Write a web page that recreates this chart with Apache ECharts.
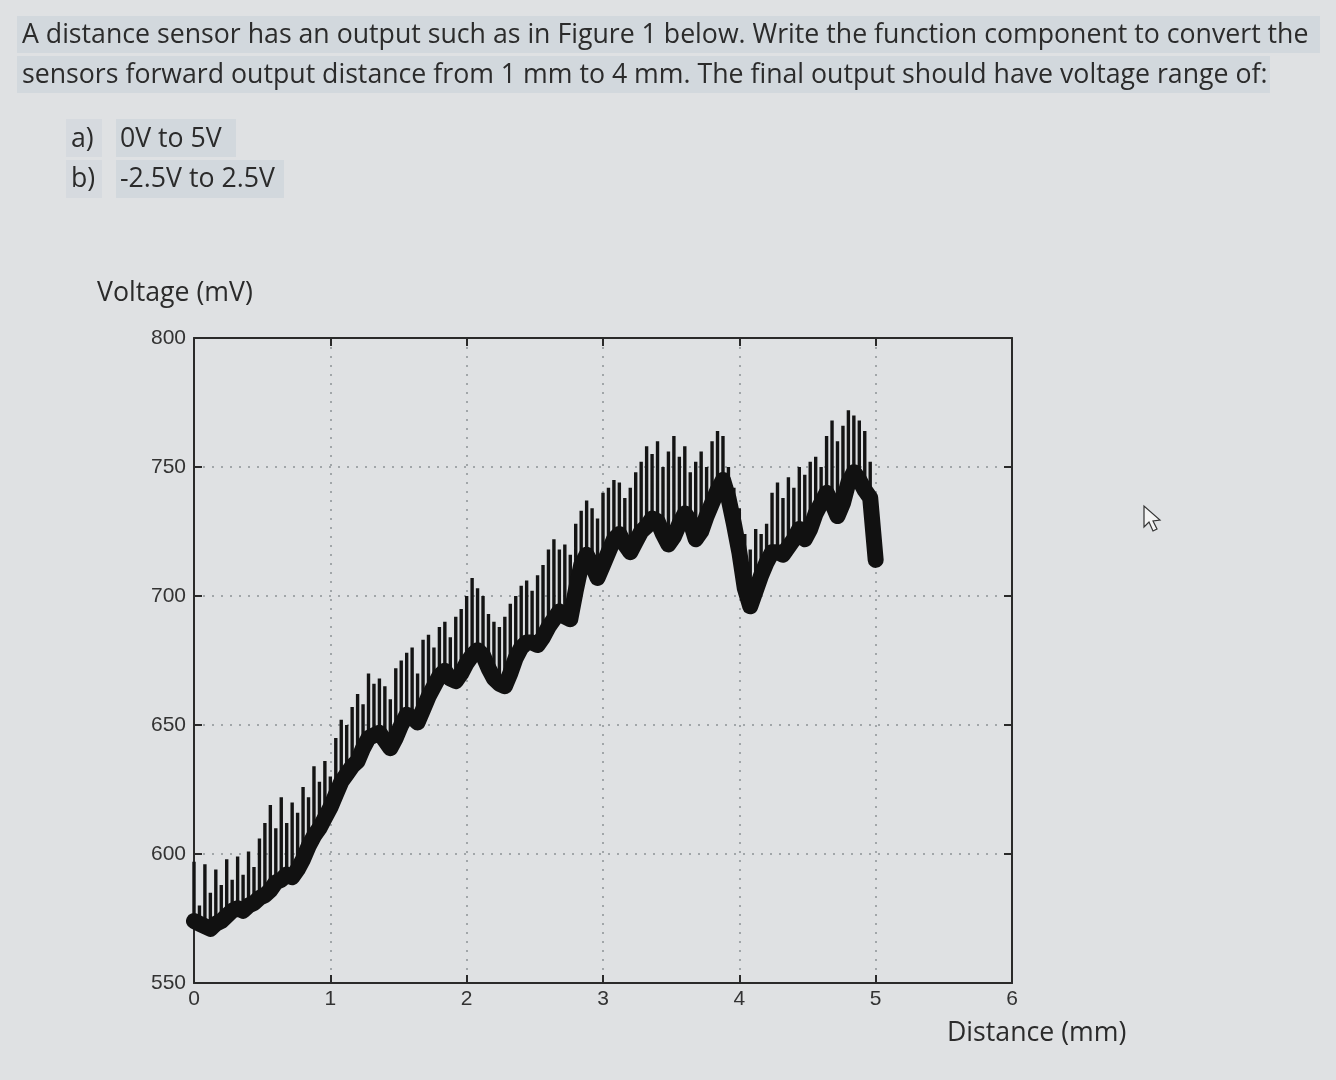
<!DOCTYPE html>
<html>
<head>
<meta charset="utf-8">
<script src="https://cdn.jsdelivr.net/npm/echarts@6/dist/echarts.min.js"></script>
<style>
  html, body { margin: 0; padding: 0; background: #dfe1e3; }
  #chart { width: 1336px; height: 1080px; }
</style>
</head>
<body>
<div id="chart"></div>
<script>
// ---- data ----
const questionLines = [
  'A distance sensor has an output such as in Figure 1 below. Write the function component to convert the',
  'sensors forward output distance from 1 mm to 4 mm. The final output should have voltage range of:'
];
const optionLabels = ['a)', 'b)'];
const optionTexts = ['0V to 5V', '-2.5V to 2.5V'];

const xTickLabels = ['0', '1', '2', '3', '4', '5', '6'];
const yTickLabels = ['550', '600', '650', '700', '750', '800'];
const xAxisName = 'Distance (mm)';
const yAxisName = 'Voltage (mV)';

const STEP_MM = 0.04; // sample spacing of the trace, 0 .. 5 mm
// centre of the dense dark band of the trace (mV)
const bandMv = [
  574, 573, 572, 571, 573, 574, 576, 578, 579, 578,
  580, 581, 583, 584, 586, 589, 590, 592, 591, 594,
  598, 603, 607, 610, 614, 618, 623, 628, 631, 634,
  636, 641, 645, 646, 647, 644, 641, 645, 650, 654,
  653, 651, 656, 661, 665, 669, 671, 668, 667, 670,
  674, 677, 679, 677, 672, 668, 666, 665, 670, 676,
  680, 682, 682, 681, 684, 688, 691, 694, 692, 691,
  702, 712, 716, 712, 707, 712, 717, 722, 724, 720,
  717, 721, 725, 727, 730, 729, 724, 720, 723, 728,
  732, 729, 722, 725, 731, 736, 741, 745, 738, 728,
  717, 703, 696, 702, 708, 713, 717, 717, 716, 719,
  722, 726, 722, 726, 732, 736, 740, 736, 731, 736,
  744, 748, 745, 741, 738, 714
];
// tops of the noise spikes (mV)
const peakMv = [
  597, 580, 596, 585, 594, 588, 598, 590, 599, 592,
  601, 595, 606, 612, 619, 610, 622, 612, 620, 616,
  626, 622, 634, 628, 636, 630, 645, 652, 650, 657,
  662, 658, 670, 666, 668, 665, 660, 672, 675, 678,
  680, 670, 683, 685, 680, 688, 690, 684, 692, 695,
  700, 707, 703, 700, 693, 690, 688, 692, 697, 700,
  704, 706, 702, 708, 712, 718, 722, 718, 720, 716,
  728, 733, 737, 734, 730, 740, 742, 745, 744, 738,
  742, 748, 752, 758, 755, 760, 750, 756, 762, 754,
  758, 748, 752, 756, 750, 760, 764, 762, 750, 742,
  734, 724, 718, 726, 724, 728, 740, 744, 738, 746,
  742, 750, 747, 752, 754, 750, 762, 768, 760, 766,
  772, 770, 768, 764, 752, 735
];

// ---- build series data ----
const bandData = bandMv.map((v, i) => [i * STEP_MM, v]);
const spikeData = [];
bandMv.forEach((v, i) => {
  const x = i * STEP_MM;
  spikeData.push([x, v], [x, peakMv[i]], [x, v]);
});

const chart = echarts.init(document.getElementById('chart'), null, { renderer: 'canvas' });

const textFont = '"Open Sans", "Noto Sans", sans-serif';
const tickFont = '"Liberation Sans", Arial, sans-serif';
const axisColor = '#2a2a2a';
const gridLine = { show: true, lineStyle: { type: [2, 7], color: '#8d9297', width: 1.5 } };
const qFont = '26.7px ' + textFont;

const option = {
  backgroundColor: '#dfe1e3',
  animation: false,
  grid: { left: 194, right: 324, top: 338, bottom: 97 },
  xAxis: [
    {
      type: 'value', min: 0, max: 6, interval: 1, position: 'bottom',
      axisLine: { show: true, onZero: false, lineStyle: { color: axisColor, width: 2 } },
      axisTick: { show: true, inside: true, length: 8, lineStyle: { color: axisColor, width: 2 } },
      axisLabel: { show: true, fontSize: 21, color: '#333', fontFamily: tickFont, margin: 6,
        formatter: (v) => xTickLabels[Math.round(v)] },
      splitLine: gridLine
    },
    {
      type: 'value', min: 0, max: 6, interval: 1, position: 'top',
      axisLine: { show: true, onZero: false, lineStyle: { color: axisColor, width: 2 } },
      axisTick: { show: true, inside: true, length: 8, lineStyle: { color: axisColor, width: 2 } },
      axisLabel: { show: false }, splitLine: { show: false }
    }
  ],
  yAxis: [
    {
      type: 'value', min: 550, max: 800, interval: 50, position: 'left',
      axisLine: { show: true, onZero: false, lineStyle: { color: axisColor, width: 2 } },
      axisTick: { show: true, inside: true, length: 8, lineStyle: { color: axisColor, width: 2 } },
      axisLabel: { show: true, fontSize: 21, color: '#333', fontFamily: tickFont, margin: 8,
        formatter: (v) => yTickLabels[Math.round((v - 550) / 50)] },
      splitLine: gridLine
    },
    {
      type: 'value', min: 550, max: 800, interval: 50, position: 'right',
      axisLine: { show: true, onZero: false, lineStyle: { color: axisColor, width: 2 } },
      axisTick: { show: true, inside: true, length: 8, lineStyle: { color: axisColor, width: 2 } },
      axisLabel: { show: false }, splitLine: { show: false }
    }
  ],
  series: [
    {
      type: 'line', data: spikeData, xAxisIndex: 0, yAxisIndex: 0,
      showSymbol: false, symbol: 'none', z: 3,
      lineStyle: { color: '#141414', width: 3.4 }
    },
    {
      type: 'line', data: bandData, xAxisIndex: 0, yAxisIndex: 0,
      showSymbol: false, symbol: 'none', z: 4,
      lineStyle: { color: '#111', width: 16, join: 'round', cap: 'round' }
    }
  ],
  graphic: [
    // highlight bars behind question text
    { type: 'rect', left: 17, top: 16, shape: { width: 1303, height: 37 }, style: { fill: '#d2d8dd' }, z: 1 },
    { type: 'rect', left: 17, top: 56, shape: { width: 1253, height: 37 }, style: { fill: '#d2d8dd' }, z: 1 },
    { type: 'rect', left: 66, top: 119, shape: { width: 36, height: 38 }, style: { fill: '#d6dadf' }, z: 1 },
    { type: 'rect', left: 116, top: 119, shape: { width: 120, height: 38 }, style: { fill: '#d2d8dd' }, z: 1 },
    { type: 'rect', left: 66, top: 160, shape: { width: 36, height: 38 }, style: { fill: '#d6dadf' }, z: 1 },
    { type: 'rect', left: 116, top: 160, shape: { width: 168, height: 38 }, style: { fill: '#d2d8dd' }, z: 1 },
    { type: 'text', left: 22, top: 22, z: 2,
      style: { text: questionLines[0], font: qFont, fill: '#2b2b2b' } },
    { type: 'text', left: 22, top: 62, z: 2,
      style: { text: questionLines[1], font: qFont, fill: '#2b2b2b' } },
    { type: 'text', left: 71, top: 126, z: 2,
      style: { text: optionLabels[0], font: qFont, fill: '#2b2b2b' } },
    { type: 'text', left: 120, top: 126, z: 2,
      style: { text: optionTexts[0], font: qFont, fill: '#2b2b2b' } },
    { type: 'text', left: 71, top: 166, z: 2,
      style: { text: optionLabels[1], font: qFont, fill: '#2b2b2b' } },
    { type: 'text', left: 120, top: 166, z: 2,
      style: { text: optionTexts[1], font: qFont, fill: '#2b2b2b' } },
    // axis names
    { type: 'text', left: 97, top: 280, z: 2,
      style: { text: yAxisName, font: qFont, fill: '#2b2b2b' } },
    { type: 'text', left: 947, top: 1020, z: 2,
      style: { text: xAxisName, font: qFont, fill: '#2b2b2b' } },
    // mouse cursor on screen
    { type: 'polygon', z: 2,
      shape: { points: [[1144, 506], [1144, 527], [1149, 522], [1153, 531], [1157, 529], [1153, 521], [1160, 520]] },
      style: { fill: '#f4f4f4', stroke: '#333', lineWidth: 1.2 } }
  ]
};
chart.setOption(option);
</script>
</body>
</html>
